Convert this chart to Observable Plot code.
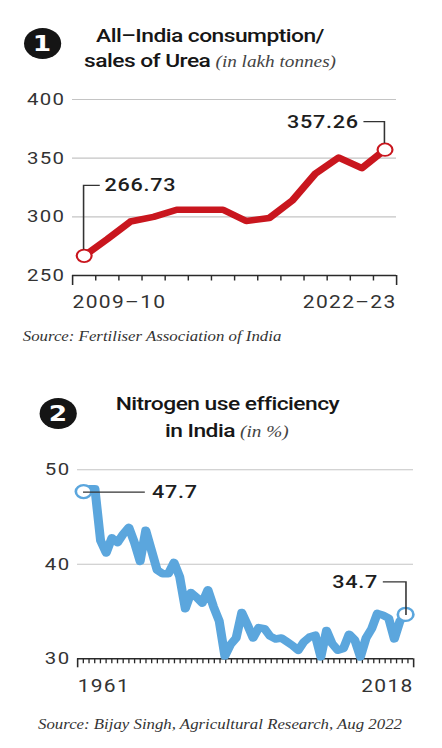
<!DOCTYPE html>
<html>
<head>
<meta charset="utf-8">
<script src="https://cdn.jsdelivr.net/npm/d3@7"></script>
<script src="https://cdn.jsdelivr.net/npm/@observablehq/plot@0.6"></script>
<style>
  html, body { margin: 0; padding: 0; background: #fff; }
  body { width: 442px; height: 748px; position: relative; overflow: hidden; }
  #wrap { position: absolute; left: 0; top: 0; width: 368px; height: 748px; transform: scaleX(1.2); transform-origin: 0 0; }
  .badge { position: absolute; width: 31px; height: 31px; border-radius: 50%; background: #151515; color: #fff;
           font: 700 22px "DejaVu Sans", sans-serif; display: flex; align-items: center; justify-content: center; }
  .tline { position: absolute; white-space: nowrap; font: 500 19px/19px Roboto, sans-serif; color: #161616;
           letter-spacing: -0.45px; transform: translateX(-50%); }
  .unit { font: italic 16px "Liberation Serif", serif; color: #444; letter-spacing: 0; }
  .src { position: absolute; white-space: nowrap; font: italic 14px/14px "Liberation Serif", serif; color: #333; }
  .chart { position: absolute; left: 0; }
</style>
</head>
<body>
<div id="wrap">
  <div class="badge" style="left:19.5px; top:27.5px;">1</div>
  <div class="tline" style="left:175px; top:26px;">All–India consumption/</div>
  <div class="tline" style="left:175px; top:51px;">sales of Urea <span class="unit">(in lakh tonnes)</span></div>
  <div id="c1" class="chart" style="top:85px;"></div>
  <div class="src" style="left:19px; top:330px;">Source: Fertiliser Association of India</div>

  <div class="badge" style="left:32.8px; top:397.5px;">2</div>
  <div class="tline" style="left:189.5px; top:394px;">Nitrogen use efficiency</div>
  <div class="tline" style="left:189px; top:421px;">in India <span class="unit">(in %)</span></div>
  <div id="c2" class="chart" style="top:455px;"></div>
  <div class="src" style="left:31.7px; top:718px;">Source: Bijay Singh, Agricultural Research, Aug 2022</div>
</div>

<script>
// ---------- Data: chart 1 ----------
const seasons = ["2009–10","2010–11","2011–12","2012–13","2013–14","2014–15","2015–16",
                 "2016–17","2017–18","2018–19","2019–20","2020–21","2021–22","2022–23"];
const ureaSales = [266.73, 281.0, 296.0, 300.0, 306.0, 306.0, 306.0,
                   296.5, 299.0, 314.0, 337.0, 350.5, 341.5, 357.26];
const ureaTicks = [250, 300, 350, 400];
const ureaAxisLabels = ["2009–10", "2022–23"];

// ---------- Data: chart 2 ----------
const years = d3.range(1961, 2019);
const nue = [47.7, 48.0, 48.0, 42.5, 41.2, 42.8, 42.3, 43.2, 43.9, 42.3,
             40.3, 43.6, 41.5, 39.4, 39.0, 39.0, 40.2, 38.7, 35.3, 37.0,
             36.5, 35.9, 37.3, 35.5, 34.0, 30.3, 31.5, 32.2, 34.9, 33.6,
             32.2, 33.3, 33.2, 32.4, 32.1, 32.2, 31.8, 31.4, 30.9, 31.8,
             32.3, 32.5, 30.2, 33.0, 31.6, 30.9, 31.1, 32.6, 32.0, 30.2,
             32.2, 33.2, 34.8, 34.6, 34.3, 32.1, 34.0, 34.7];
const nueTicks = [30, 40, 50];
const nueAxisLabels = ["1961", "2018"];

const RED = "#c9161e";
const BLUE = "#5ba6dd";
const INK = "#2a2a2a";

// ---------- Chart 1 ----------
const n1 = seasons.length;
const x1Domain = [-0.5, n1 - 0.5];
const edges1 = d3.range(n1 + 1).map(i => i - 0.5);
const urea = seasons.map((s, i) => ({i, season: s, value: ureaSales[i]}));

const plot1 = Plot.plot({
  width: 368, height: 230,
  marginTop: 14, marginBottom: 40, marginLeft: 60, marginRight: 38,
  x: {domain: x1Domain, axis: null, label: null},
  y: {domain: [250, 400], axis: null, label: null},
  style: {fontFamily: "Roboto, sans-serif", fontSize: "17px", color: INK, background: "transparent", overflow: "visible", letterSpacing: "1.1px"},
  marks: [
    Plot.gridY(ureaTicks.slice(1), {stroke: "#c4c4c4", strokeOpacity: 1, strokeWidth: 1.1}),
    Plot.axisY(ureaTicks, {tickSize: 0, tickPadding: 6, label: null, fontSize: 17, fill: "#333"}),
    Plot.ruleY([ureaTicks[0]], {stroke: INK, strokeWidth: 1.4}),
    Plot.axisX(edges1.slice(1, -1), {tickSize: 5.5, tickFormat: () => "", label: null, stroke: INK, strokeWidth: 1.2}),
    Plot.axisX([x1Domain[0], x1Domain[1]], {tickSize: 10, tickFormat: () => "", label: null, stroke: INK, strokeWidth: 1.3}),
    Plot.text([ureaAxisLabels[0]], {x: x1Domain[0], frameAnchor: "bottom", textAnchor: "start", lineAnchor: "top", dy: 20, fontSize: 17.5, fill: "#333", style: {letterSpacing: "0.5px"}}),
    Plot.text([ureaAxisLabels[1]], {x: x1Domain[1], frameAnchor: "bottom", textAnchor: "end", lineAnchor: "top", dy: 20, fontSize: 17.5, fill: "#333"}),
    Plot.line(urea, {x: "i", y: "value", stroke: RED, strokeWidth: 6.5, strokeLinejoin: "round", strokeLinecap: "round"}),
    Plot.dot([urea[0], urea[n1 - 1]], {x: "i", y: "value", r: 6.2, fill: "white", stroke: RED, strokeWidth: 1.8})
  ]
});
document.getElementById("c1").appendChild(plot1);

// ---------- Chart 2 ----------
const x2Domain = [1959.94, 2019.42];
const edges2 = d3.range(60).map(k => x2Domain[0] + k * (x2Domain[1] - x2Domain[0]) / 59);
const nueData = years.map((y, i) => ({year: y, value: nue[i]}));
const nLast = nueData.length - 1;

const plot2 = Plot.plot({
  width: 368, height: 250,
  marginTop: 14.3, marginBottom: 46.7, marginLeft: 64.2, marginRight: 23.8,
  x: {domain: x2Domain, axis: null, label: null},
  y: {domain: [30, 50], axis: null, label: null},
  style: {fontFamily: "Roboto, sans-serif", fontSize: "17px", color: INK, background: "transparent", overflow: "visible", letterSpacing: "1.1px"},
  marks: [
    Plot.gridY(nueTicks.slice(1), {stroke: "#c4c4c4", strokeOpacity: 1, strokeWidth: 1.1}),
    Plot.axisY(nueTicks, {tickSize: 0, tickPadding: 6, label: null, fontSize: 17, fill: "#333"}),
    Plot.ruleY([nueTicks[0]], {stroke: INK, strokeWidth: 1.4}),
    Plot.axisX(edges2.slice(1, -1), {tickSize: 5, tickFormat: () => "", label: null, stroke: INK, strokeWidth: 1.1}),
    Plot.axisX([x2Domain[0], x2Domain[1]], {tickSize: 9, tickFormat: () => "", label: null, stroke: INK, strokeWidth: 1.3}),
    Plot.text([nueAxisLabels[0]], {x: x2Domain[0], frameAnchor: "bottom", textAnchor: "start", lineAnchor: "top", dy: 21, fontSize: 17.5, fill: "#333"}),
    Plot.text([nueAxisLabels[1]], {x: x2Domain[1], frameAnchor: "bottom", textAnchor: "end", lineAnchor: "top", dy: 21, fontSize: 17.5, fill: "#333"}),
    Plot.line(nueData, {x: "year", y: "value", stroke: BLUE, strokeWidth: 7.5, strokeLinejoin: "round", strokeLinecap: "round"}),
    Plot.dot([nueData[0], nueData[nLast]], {x: "year", y: "value", r: 6.5, fill: "white", stroke: BLUE, strokeWidth: 2.2})
  ]
});
document.getElementById("c2").appendChild(plot2);

// ---------- Annotations (placed with the plots' own scales) ----------
function callout(plot, xv, yv, label, path, tx, ty, anchor) {
  const sx = plot.scale("x"), sy = plot.scale("y");
  const cx = sx.apply(xv), cy = sy.apply(yv);
  const g = d3.select(plot).append("g");
  g.append("path")
    .attr("d", path(cx, cy))
    .attr("fill", "none").attr("stroke", "#333").attr("stroke-width", 1.3);
  g.append("text")
    .attr("x", cx + tx).attr("y", cy + ty)
    .attr("text-anchor", anchor).attr("dominant-baseline", "central")
    .attr("font-family", "Roboto, sans-serif").attr("font-size", 18).attr("font-weight", 500)
    .attr("letter-spacing", "0.6px").attr("fill", "#1e1e1e")
    .text(label);
}
const f1 = urea[0], l1 = urea[n1 - 1];
callout(plot1, f1.i, f1.value, f1.value.toFixed(2),
  (cx, cy) => `M${cx},${cy - 6.2}V${cy - 70}H${cx + 13.5}`, 17.5, -70, "start");
callout(plot1, l1.i, l1.value, l1.value.toFixed(2),
  (cx, cy) => `M${cx - 17.5},${cy - 27.5}H${cx}V${cy - 6.2}`, -21.5, -27.5, "end");

const f2 = nueData[0], l2 = nueData[nLast];
callout(plot2, f2.year, f2.value, f2.value.toFixed(1),
  (cx, cy) => `M${cx},${cy + 1}H${cx + 51.5}`, 57.5, 1.5, "start");
callout(plot2, l2.year, l2.value, l2.value.toFixed(1),
  (cx, cy) => `M${cx - 18.5},${cy - 32}H${cx + 0.8}V${cy + 1}`, -22.5, -32, "end");
</script>
</body>
</html>
